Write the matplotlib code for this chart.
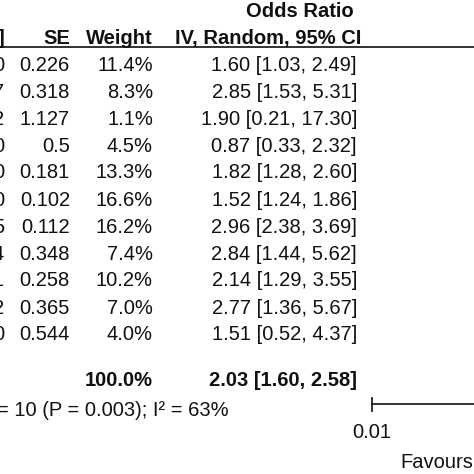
import matplotlib
matplotlib.use("Agg")
import matplotlib.pyplot as plt

se = ["0.226","0.318","1.127","0.5","0.181","0.102","0.112","0.348","0.258","0.365","0.544"]
weight = ["11.4%","8.3%","1.1%","4.5%","13.3%","16.6%","16.2%","7.4%","10.2%","7.0%","4.0%"]
ci = ["1.60 [1.03, 2.49]","2.85 [1.53, 5.31]","1.90 [0.21, 17.30]","0.87 [0.33, 2.32]",
      "1.82 [1.28, 2.60]","1.52 [1.24, 1.86]","2.96 [2.38, 3.69]","2.84 [1.44, 5.62]",
      "2.14 [1.29, 3.55]","2.77 [1.36, 5.67]","1.51 [0.52, 4.37]"]
cut = ["0","7","2","0","0","0","5","4","1","2","0"]
ticks = ["0.01"]

plt.rcParams['font.family'] = ['Liberation Sans', 'DejaVu Sans']
W = H = 474
fig = plt.figure(figsize=(4.74, 4.74), dpi=100)
ax = fig.add_axes([0, 0, 1, 1])
ax.set_xlim(0, W); ax.set_ylim(H, 0); ax.axis('off')
fs = 14.5
def t(x, y, s, ha='left', bold=False):
    ax.text(x, y, s, ha=ha, va='center', fontsize=fs, color='#111',
            fontweight='bold' if bold else 'normal')

t(300, 11, "Odds Ratio", 'center', True)
t(5, 38, "]", 'right', True)
t(70, 38, "SE", 'right', True)
t(153, 38, "Weight", 'right', True)
t(268, 38, "IV, Random, 95% CI", 'center', True)
ax.plot([0, W], [47, 47], color='#222', lw=1.3)

y0, dy = 65, 27.0
for i in range(len(se)):
    y = y0 + i * dy
    t(4, y, cut[i], 'right')
    t(70, y, se[i], 'right')
    t(153, y, weight[i], 'right')
    t(357, y, ci[i], 'right')

t(153, 380, "100.0%", 'right', True)
t(357, 380, "2.03 [1.60, 2.58]", 'right', True)
t(-3, 410, "= 10 (P = 0.003); I² = 63%")

ax.plot([372, W], [404, 404], color='#222', lw=1.3)
ax.plot([372, 372], [398, 411], color='#222', lw=1.3)
t(372, 432, ticks[0], 'center')
t(400, 463, "Favours")
fig.savefig("out.png", dpi=100)
